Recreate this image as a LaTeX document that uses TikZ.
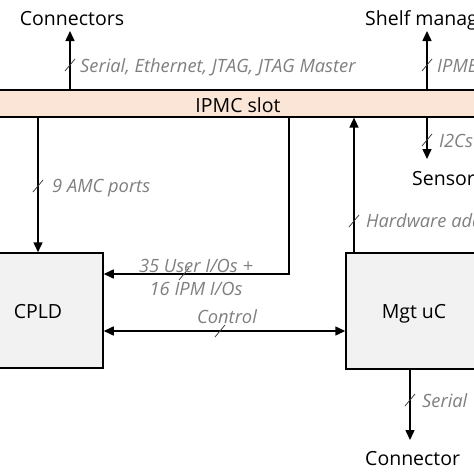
\documentclass[tikz,border=0pt]{standalone}
\usepackage{fontspec}
\setmainfont{Open Sans}
\usetikzlibrary{arrows.meta}
\definecolor{peach}{HTML}{FBE5D6}
\definecolor{boxgray}{HTML}{F2F2F2}
\definecolor{lblgray}{HTML}{7F7F7F}
\begin{document}
\begin{tikzpicture}[x=1pt,y=-1pt,
  conn/.style={line width=1.5pt, -{Triangle[length=10pt,width=9pt]}},
  dconn/.style={line width=1.5pt, {Triangle[length=10pt,width=9pt]}-{Triangle[length=10pt,width=9pt]}},
  main/.style={font=\fontsize{19.5}{23}\selectfont, inner sep=0pt, anchor=base},
  mainw/.style={main, anchor=base west},
  lbl/.style={font=\fontsize{18.3}{23}\selectfont\itshape, text=lblgray, inner sep=0pt, anchor=base west},
  blk/.style={draw, line width=1.5pt, fill=boxgray, inner sep=0pt},
  tick/.style={line width=0.8pt, black!75}
]
\useasboundingbox (0,0) rectangle (474,474);
\clip (0,0) rectangle (474,474);

% IPMC slot bar
\node[draw, line width=1.2pt, fill=peach, minimum width=540pt, minimum height=27pt, inner sep=0pt] (slot) at (237,103.5) {};
\node[main] (slottxt) at (238,112) {IPMC slot};

% blocks
\node[blk, minimum width=130pt, minimum height=115pt] (cpld) at (38,310.5) {};
\node[main] (cpldtxt) at (38,318) {CPLD};
\node[blk, minimum width=136pt, minimum height=116pt] (mgt) at (414,311) {};
\node[main] (mgttxt) at (414,318) {Mgt uC};

% endpoint texts
\node[main] (connectors) at (72,25) {Connectors};
\node[mainw] (shelf) at (365,25) {Shelf manager};
\node[mainw] (sensors) at (412,185) {Sensors};
\node[mainw] (connector) at (365,465) {Connector};

% coordinates
\coordinate (conntip) at (70,31);
\coordinate (shelftip) at (427,31);
\coordinate (senstip) at (427,159);
\coordinate (contip) at (410,440);
\coordinate (uio) at (289,274);
\coordinate (hw) at (354,0);
\coordinate (ctl) at (0,331);

% connectors
\draw[conn] (slot.north -| conntip) -- (conntip);
\draw[conn] (slot.north -| shelftip) -- (shelftip);
\draw[conn] (slot.south -| cpld.north) -- (cpld.north);
\draw[conn] (slot.south -| uio) |- (cpld.east |- uio);
\draw[conn] (mgt.north -| hw) -- (slot.south -| hw);
\draw[conn] (slot.south -| senstip) -- (senstip);
\draw[dconn] (cpld.east |- ctl) -- (mgt.west |- ctl);
\draw[conn] (mgt.south -| contip) -- (contip);

% bus ticks
\foreach \tx/\ty in {70/65,427/65,38/186,184/274,220/331,354/221,427/140,410/400}
  \draw[tick] (\tx-5,\ty+6) -- (\tx+5,\ty-6);

% labels
\node[lbl] (l1) at (80,72) {Serial, Ethernet, JTAG, JTAG Master};
\node[lbl] (l2) at (437,72) {IPMB};
\node[lbl] (l3) at (52,192) {9 AMC ports};
\node[lbl] (l4) at (439,147) {I2Cs};
\node[lbl] (l5) at (366,227) {Hardware address};
\node[lbl, anchor=center, align=center] (l6) at (196,277) {35 User I/Os +\\16 IPM I/Os};
\node[lbl, anchor=base] (l7) at (227,323) {Control};
\node[lbl] (l8) at (422,407) {Serial};
\end{tikzpicture}
\end{document}
